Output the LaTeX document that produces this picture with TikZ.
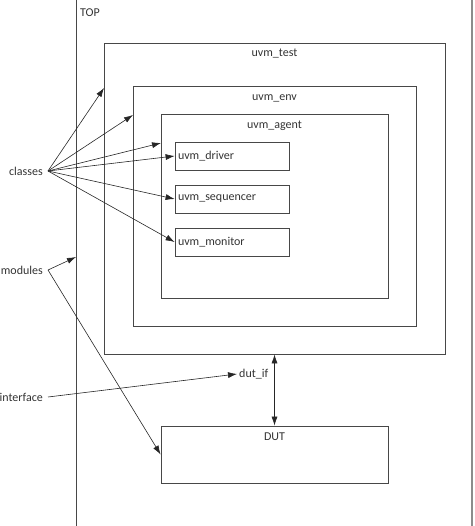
\documentclass[tikz,border=0pt]{standalone}
\usepackage{fontspec}
\setmainfont{Carlito}
\usetikzlibrary{arrows.meta}

\tikzset{
  box/.style={draw=black!72, line width=0.8pt, inner sep=0pt},
  sbox/.style={box, minimum width=114pt, minimum height=28pt, text width=108pt, inner xsep=3pt, align=left, text=black!80, font=\fontsize{12}{14}\selectfont},
  lbl/.style={text=black!80, font=\fontsize{12}{14}\selectfont, inner sep=1pt},
  ptr/.style={draw=black!85, line width=0.6pt, -{Latex[length=9pt,width=6pt]}},
  dptr/.style={draw=black!85, line width=0.6pt, {Latex[length=9pt,width=6pt]}-{Latex[length=9pt,width=6pt]}},
}

\begin{document}
\begin{tikzpicture}[x=1pt,y=1pt,yscale=-1,xscale=1]
\useasboundingbox (0,0) rectangle (474,526);

%Shape: TOP line and right border
\coordinate (topa) at (76,0);
\coordinate (topb) at (76,526);
\draw [draw=black!72, line width=0.8pt] (topa) -- (topb);
\coordinate (rima) at (472,0);
\coordinate (rimb) at (472,526);
\draw [draw=black!45, line width=2pt] (rima) -- (rimb);
\node[lbl, anchor=west] (toplbl) at (79,13) {TOP};

%Shape: nested class boxes
\node[box, minimum width=341pt, minimum height=311pt] (test) at (274.5,198.5) {};
\node[box, minimum width=283pt, minimum height=240pt] (env) at (274.5,206) {};
\node[box, minimum width=227pt, minimum height=184pt] (agent) at (274.5,206) {};
\node[lbl] (testlbl) at (274.5,54) {uvm\_test};
\node[lbl] (envlbl) at (274.5,98) {uvm\_env};
\node[lbl] (agentlbl) at (274.5,126) {uvm\_agent};

\node[sbox] (driver) at (232,156) {uvm\_driver};
\node[sbox] (seq) at (232,199) {uvm\_sequencer};
\node[sbox] (mon) at (232,242) {uvm\_monitor};

%Shape: DUT
\node[box, minimum width=227pt, minimum height=57pt] (dut) at (274.5,454.5) {};
\node[lbl] (dutlbl) at (274.5,437) {DUT};
\node[lbl, anchor=west, inner xsep=2pt] (dutif) at (237,374) {dut\_if};

% Text Node
\node[lbl, anchor=east, inner xsep=5pt] (classes) at (48,171) {classes};
\node[lbl, anchor=east, inner xsep=5pt] (modules) at (48,270) {modules};
\node[lbl, anchor=east, inner xsep=5pt] (iface) at (48,397) {interface};

%Arrows
\coordinate (testp) at (104,88);
\coordinate (envp) at (133,115);
\coordinate (agentp) at (161,143);
\coordinate (topp) at (76,257);
\draw[ptr] (classes.east) -- (testp);
\draw[ptr] (classes.east) -- (envp);
\draw[ptr] (classes.east) -- (agentp);
\draw[ptr] (classes.east) -- (driver.west);
\draw[ptr] (classes.east) -- (seq.west);
\draw[ptr] (classes.east) -- (mon.west);
\draw[ptr] (modules.east) -- (topp);
\draw[ptr] (modules.east) -- (dut.west);
\draw[ptr] (iface.east) -- (dutif.west);
\draw[dptr] (test.south) -- (dut.north);

\end{tikzpicture}
\end{document}
